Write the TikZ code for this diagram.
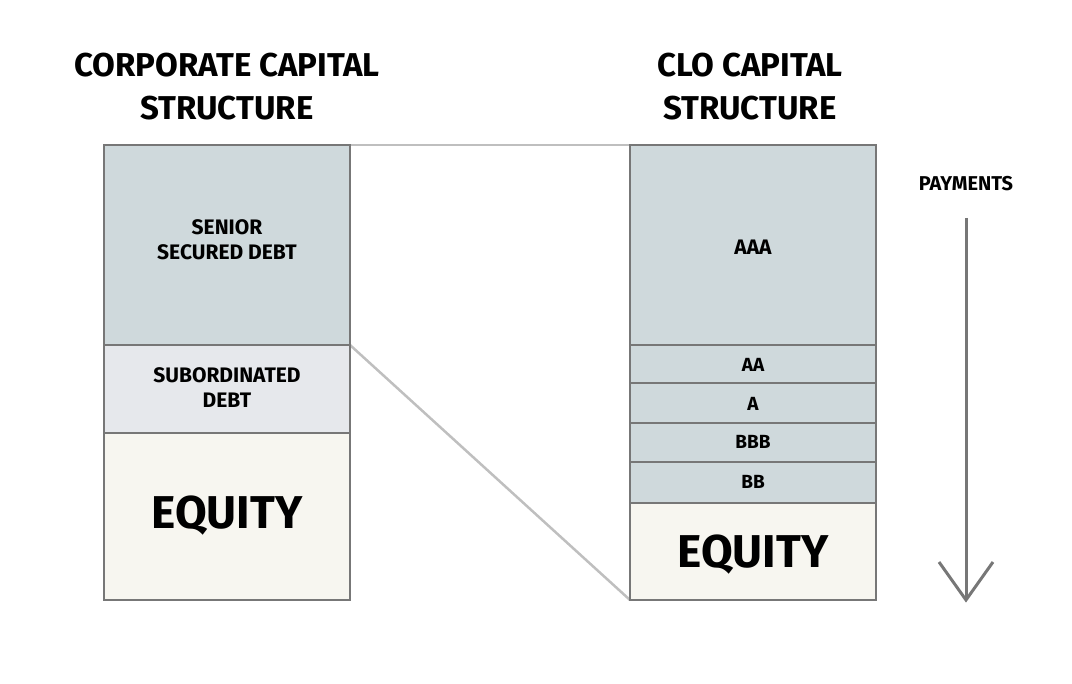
\documentclass[tikz,border=0pt]{standalone}
\usepackage{fontspec}
\setmainfont{Fira Sans}
\usetikzlibrary{arrows.meta}
\definecolor{senior}{HTML}{CFD9DC}
\definecolor{sub}{HTML}{E6E8EC}
\definecolor{eq}{HTML}{F7F6F0}
\definecolor{bord}{HTML}{777777}
\begin{document}
\begin{tikzpicture}[x=1pt,y=-1pt,
  blk/.style={draw=bord,line width=2.5pt},
  lbl/.style={font=\fontsize{21}{25}\selectfont\bfseries,align=center},
  ttl/.style={font=\fontsize{33}{43}\selectfont\bfseries,align=center},
  big/.style={font=\fontsize{46}{50}\selectfont\bfseries}]
\useasboundingbox (0,0) rectangle (1072,684);
\node[ttl] (t1) at (227,87) {CORPORATE CAPITAL\\STRUCTURE};
\node[ttl] (t2) at (750,87) {CLO CAPITAL\\STRUCTURE};
\draw[draw=black!25,line width=2.5pt] (350,145) coordinate (c1) -- (630,145) coordinate (c2);
\draw[draw=black!25,line width=2.5pt] (350,345) coordinate (c3) -- (630,600) coordinate (c4);
\filldraw[blk,fill=senior] (104,145) rectangle (350,345);
\filldraw[blk,fill=sub] (104,345) rectangle (350,433);
\filldraw[blk,fill=eq] (104,433) rectangle (350,600);
\node[lbl] (s) at (227,240) {SENIOR\\SECURED DEBT};
\node[lbl] (sd) at (227,388) {SUBORDINATED\\DEBT};
\node[big] (e1) at (227,516) {EQUITY};
\filldraw[blk,fill=senior] (630,145) rectangle (876,345);
\filldraw[blk,fill=senior] (630,345) rectangle (876,383);
\filldraw[blk,fill=senior] (630,383) rectangle (876,423);
\filldraw[blk,fill=senior] (630,423) rectangle (876,462);
\filldraw[blk,fill=senior] (630,462) rectangle (876,503);
\filldraw[blk,fill=eq] (630,503) rectangle (876,600);
\node[lbl] (aaa) at (753,247) {AAA};
\node[lbl,font=\fontsize{19}{22}\selectfont\bfseries] (aa) at (753,365) {AA};
\node[lbl,font=\fontsize{19}{22}\selectfont\bfseries] (a) at (753,404) {A};
\node[lbl,font=\fontsize{19}{22}\selectfont\bfseries] (bbb) at (753,442) {BBB};
\node[lbl,font=\fontsize{19}{22}\selectfont\bfseries] (bb) at (753,482) {BB};
\node[big] (e2) at (753,555) {EQUITY};
\node[lbl,font=\fontsize{20}{24}\selectfont\bfseries] (pay) at (966,184) {PAYMENTS};
\coordinate (p1) at (966,218);
\coordinate (p2) at (966,600);
\draw[draw=bord,line width=3pt] (p1) -- (p2);
\draw[draw=bord,line width=3pt] (939,562) -- (p2) -- (993,562);
\end{tikzpicture}
\end{document}
